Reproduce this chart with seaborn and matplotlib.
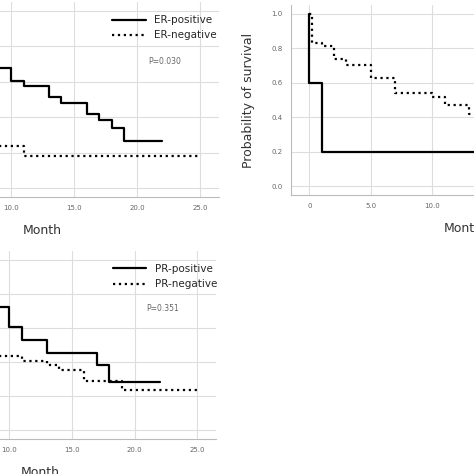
import matplotlib
matplotlib.use("Agg")
import matplotlib.pyplot as plt
import seaborn as sns
import pandas as pd

sns.set_style("white")

# Panel A: ER status
er_pos_t = [0, 2, 4, 6, 8, 10, 11, 13, 14, 16, 17, 18, 19, 22]
er_pos_s = [1.0, 0.93, 0.85, 0.76, 0.68, 0.603, 0.575, 0.514, 0.483, 0.421, 0.383, 0.338, 0.267, 0.267]
er_neg_t = [0, 1, 3, 6, 11, 25]
er_neg_s = [1.0, 0.6, 0.4, 0.237, 0.18, 0.18]

# Panel B (right, cut off)
b_solid_t = [0, 0, 1, 30]
b_solid_s = [1.0, 0.6, 0.2, 0.2]
b_dot_t = [0, 0.2, 1, 2, 3, 5, 7, 10, 11, 13, 16]
b_dot_s = [1.0, 0.83, 0.81, 0.74, 0.70, 0.63, 0.54, 0.52, 0.47, 0.42, 0.42]

# Panel C: PR status
pr_pos_t = [0, 3, 6, 8, 10, 11, 13, 17, 18, 22]
pr_pos_s = [1.0, 0.9, 0.8, 0.72, 0.607, 0.529, 0.455, 0.381, 0.284, 0.284]
pr_neg_t = [0, 2, 5, 8, 11, 13, 14, 16, 19, 25]
pr_neg_s = [1.0, 0.8, 0.6, 0.436, 0.409, 0.384, 0.354, 0.29, 0.234, 0.234]

xticks = [0, 5, 10, 15, 20, 25]
xticklabels = ["0", "5.0", "10.0", "15.0", "20.0", "25.0"]
yticks = [0, 0.2, 0.4, 0.6, 0.8, 1.0]
yticklabels = ["0.0", "0.2", "0.4", "0.6", "0.8", "1.0"]

W = H = 474
fig = plt.figure(figsize=(4.74, 4.74), dpi=100)

def ax_px(left, top, w, h):
    return fig.add_axes([left / W, 1 - (top + h) / H, w / W, h / H])

def style(ax, xlabel, ylabel=None):
    ax.set_xlim(-1.5, 26.5)
    ax.set_ylim(-0.05, 1.05)
    ax.set_xticks(xticks)
    ax.set_xticklabels(xticklabels)
    ax.set_yticks(yticks)
    ax.set_yticklabels(yticklabels)
    ax.tick_params(labelsize=5, colors="#666666", length=0, pad=6)
    ax.grid(True, color="#dddddd", linewidth=0.8)
    for s in ["top", "right"]:
        ax.spines[s].set_visible(False)
    for s in ["left", "bottom"]:
        ax.spines[s].set_color("#bbbbbb")
    ax.set_xlabel(xlabel, fontsize=9, color="#333333", labelpad=9)
    ax.set_ylabel(ylabel if ylabel else "", fontsize=9, color="#333333", labelpad=12)

def draw(ax, t, s, ls):
    df = pd.DataFrame({"t": t, "s": s})
    sns.lineplot(data=df, x="t", y="s", ax=ax, drawstyle="steps-post",
                 estimator=None, sort=False,
                 color="black", linestyle=ls, linewidth=1.6)

# Panel A
a1 = ax_px(-134, 2, 353, 195)
draw(a1, er_pos_t, er_pos_s, "-")
draw(a1, er_neg_t, er_neg_s, ":")
style(a1, "Month")
a1.lines[0].set_label("ER-positive")
a1.lines[1].set_label("ER-negative")
a1.legend(loc="upper right", bbox_to_anchor=(1.02, 0.98), frameon=False, fontsize=7.5, handlelength=3.2)
a1.text(0.80, 0.68, "P=0.030", transform=a1.transAxes, fontsize=5.5, color="#666666")

# Panel B
a2 = ax_px(291, 5, 344, 190)
draw(a2, b_solid_t, b_solid_s, "-")
draw(a2, b_dot_t, b_dot_s, ":")
style(a2, "Month", "Probability of survival")

# Panel C
a3 = ax_px(-135, 251, 351, 188)
draw(a3, pr_pos_t, pr_pos_s, "-")
draw(a3, pr_neg_t, pr_neg_s, ":")
style(a3, "Month")
a3.lines[0].set_label("PR-positive")
a3.lines[1].set_label("PR-negative")
a3.legend(loc="upper right", bbox_to_anchor=(1.03, 0.98), frameon=False, fontsize=7.5, handlelength=3.2)
a3.text(0.80, 0.68, "P=0.351", transform=a3.transAxes, fontsize=5.5, color="#666666")

fig.savefig("out.png", dpi=100)
